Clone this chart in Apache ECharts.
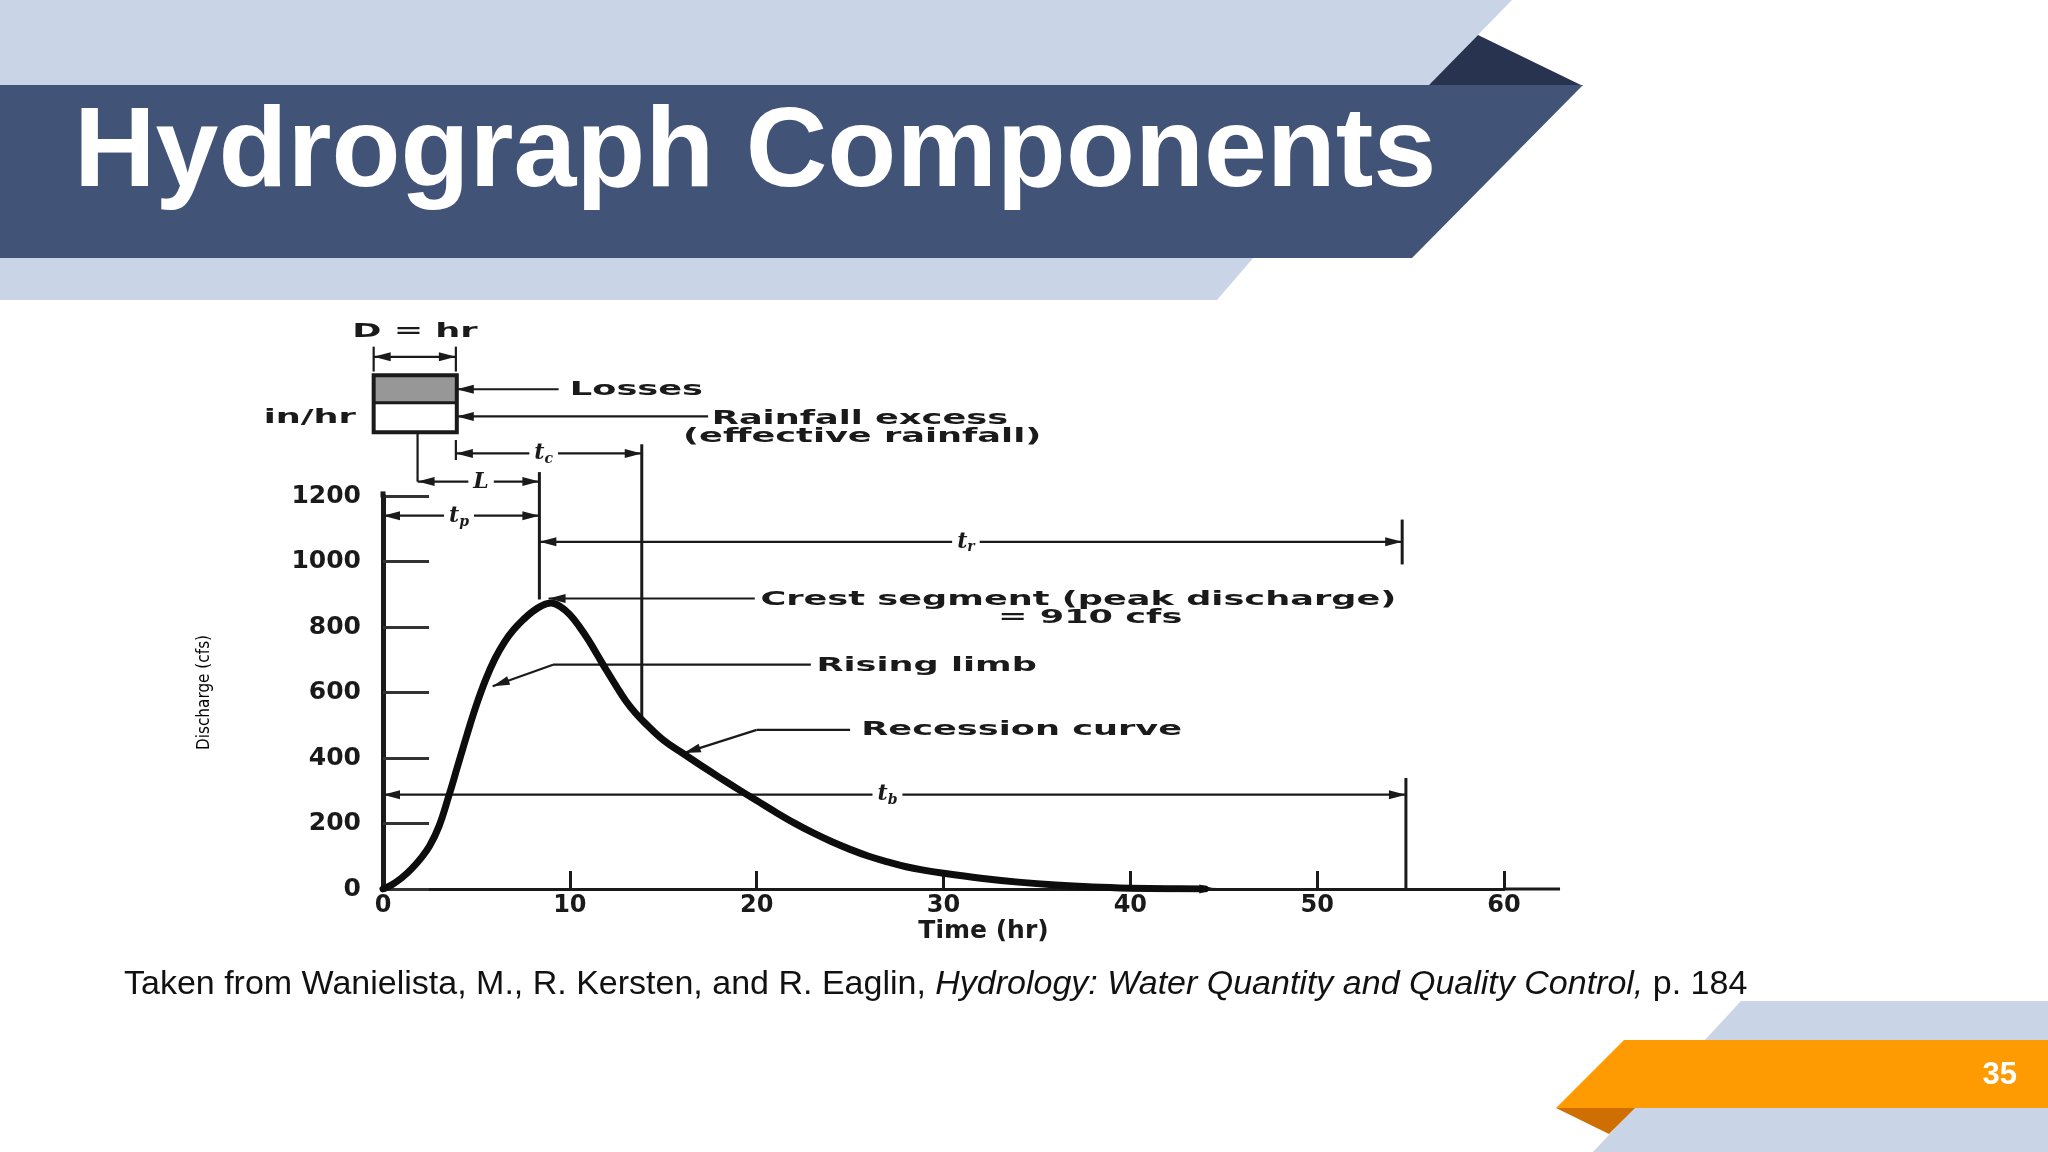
<!DOCTYPE html>
<html>
<head>
<meta charset="utf-8">
<script src="https://cdn.jsdelivr.net/npm/echarts@6/dist/echarts.min.js"></script>
<style>
html,body{margin:0;padding:0;background:#ffffff;overflow:hidden}
#chart{width:2048px;height:1152px}
</style>
</head>
<body>
<div id="chart"></div>
<script>
// ---------- data ----------
const timeHr = [0,0.5,1,1.5,2,2.5,3,3.5,4,4.5,5,5.5,6,6.5,7,7.5,8,8.5,9,9.5,10,10.5,11,11.5,12,12.5,13,13.5,14,15,16,17,18,19,20,21,22,23,24,25,26,27,28,29,30,32,34,36,38,40,42,44];
const dischargeCfs = [0,14,34,60,92,132,192,280,376,472,562,640,704,754,792,822,847,865,873,862,838,802,760,712,664,618,574,538,508,455,416,378,341,305,270,235,202,172,145,121,100,83,68,57,48,33,21,12,6,2.5,0.8,0];

const xTickValues = [0,10,20,30,40,50,60];
const yTickValues = [0,200,400,600,800,1000,1200];

// rainfall block: [start hr, end hr, base, excess top, losses top] (cfs-axis units)
const rainfallBlock = [-0.5, 3.95, 1395, 1485, 1569];

// guide segments [t1, v1, t2, v2, arrowAtStart, arrowAtEnd]
const guideSegments = [
  [-0.5,1625,3.9,1625,1,1],
  [-0.5,1656,-0.5,1580,0,0],
  [3.9,1656,3.9,1580,0,0],
  [9.4,1526,3.95,1526,0,1],
  [17.4,1443,3.95,1443,0,1],
  [1.85,1395,1.85,1244,0,0],
  [1.85,1244,8.37,1244,1,1],
  [3.9,1371,3.9,1310,0,0],
  [3.9,1330,13.85,1330,1,1],
  [0,1140,8.37,1140,1,1],
  [8.37,1060,54.55,1060,1,1],
  [19.9,887,8.86,887,0,1],
  [22.9,685,9.1,685,0,0],
  [9.1,685,5.87,619,0,1],
  [25.0,486,20.0,486,0,0],
  [20.0,486,16.1,415,0,1],
  [0,288,54.75,288,1,1],
  [43.4,0,44.6,0,0,1]
];
// heavier bars [t1, v1, t2, v2]
const markerBars = [
  [8.37,1273,8.37,884],
  [13.85,1358,13.85,515],
  [54.55,1128,54.55,991],
  [54.75,339,54.75,0],
  [60,0,63,0]
];
const axisExtension = [[0,1195,0,1214]];

// annotation text [t, v, text, anchor]
const noteTexts = [
  [1.71,1701,'D = hr','center'],
  [10.0,1524,'Losses','left'],
  [-1.45,1438,'in/hr','right'],
  [17.6,1435,'Rainfall excess','left'],
  [16.06,1380,'(effective rainfall)','left'],
  [20.2,882,'Crest segment (peak discharge)','left'],
  [37.85,827,'= 910 cfs','center'],
  [23.2,681,'Rising limb','left'],
  [25.6,486,'Recession curve','left']
];
// symbol labels [t, v, symbol, subscript]
const symbolLabels = [
  [8.6,1331,'t','c'],
  [5.25,1243,'L',''],
  [4.07,1139,'t','p'],
  [31.2,1060,'t','r'],
  [27.0,290,'t','b']
];

// ---------- drawing ----------
const INK = '#1a1a1a';
const NOTE_FONT = 'bold 19px "DejaVu Sans"';

function arrowHead(from, to) {
  const dx = to[0]-from[0], dy = to[1]-from[1];
  const len = Math.sqrt(dx*dx+dy*dy) || 1;
  const ux = dx/len, uy = dy/len, nx = -uy, ny = ux;
  const L = 17, W = 4.5;
  const bx = to[0]-ux*L, by = to[1]-uy*L;
  return {type:'polygon', shape:{points:[[to[0],to[1]],[bx+nx*W,by+ny*W],[bx-nx*W,by-ny*W]]}, style:{fill:INK}};
}

function segRenderer(width) {
  return function(params, api) {
    const p1 = api.coord([api.value(0), api.value(1)]);
    const p2 = api.coord([api.value(2), api.value(3)]);
    const children = [{type:'line', shape:{x1:p1[0],y1:p1[1],x2:p2[0],y2:p2[1]}, style:{stroke:INK, lineWidth:width}}];
    if (api.value(4)) children.push(arrowHead(p2, p1));
    if (api.value(5)) children.push(arrowHead(p1, p2));
    return {type:'group', children};
  };
}

const chart = echarts.init(document.getElementById('chart'), null, {width:2048, height:1152});

const lightBlue = '#c9d5e6';
const option = {
  animation: false,
  backgroundColor: '#ffffff',
  grid: {left:383, right:544, top:496, bottom:263, containLabel:false},
  xAxis: {
    type:'value', min:xTickValues[0], max:xTickValues[xTickValues.length-1], interval:10,
    name:'Time (hr)', nameLocation:'middle', nameGap:28,
    nameTextStyle:{fontFamily:'DejaVu Sans', fontWeight:'bold', fontSize:25, color:INK, padding:[0,0,0,80]},
    axisLine:{lineStyle:{color:INK, width:3}},
    axisTick:{inside:true, length:18, lineStyle:{color:INK, width:3}},
    axisLabel:{fontFamily:'DejaVu Sans', fontWeight:'bold', fontSize:24, color:INK, margin:5,
      formatter:function(v){return String(v);}},
    splitLine:{show:false}
  },
  yAxis: {
    type:'value', min:yTickValues[0], max:yTickValues[yTickValues.length-1], interval:200,
    name:'Discharge (cfs)', nameLocation:'middle', nameGap:170,
    nameTextStyle:{fontFamily:'"DejaVu Sans Condensed", "Liberation Sans Narrow", "Liberation Sans", Arial', fontSize:17, color:'#000'},
    axisLine:{lineStyle:{color:INK, width:5}},
    axisTick:{inside:true, length:46, lineStyle:{color:'#333', width:3}},
    axisLabel:{fontFamily:'DejaVu Sans', fontWeight:'bold', fontSize:25, color:INK, margin:22,
      formatter:function(v){return String(v);}},
    splitLine:{show:false}
  },
  graphic: [
    {type:'polygon', z:-10, shape:{points:[[0,0],[1512,0],[1428,86],[0,86]]}, style:{fill:lightBlue}},
    {type:'polygon', z:-9, shape:{points:[[1478,35],[1583,86],[1428,86]]}, style:{fill:'#28344f'}},
    {type:'polygon', z:-9, shape:{points:[[0,85],[1583,85],[1412,258],[0,258]]}, style:{fill:'#415377'}},
    {type:'polygon', z:-10, shape:{points:[[0,257],[1254,257],[1217,300],[0,300]]}, style:{fill:lightBlue}},
    {type:'text', z:5, x:74, y:155, style:{text:'Hydrograph Components', font:'bold 113px "Liberation Sans", Arial', fill:'#ffffff', align:'left', verticalAlign:'middle'}},
    {type:'polygon', z:-10, shape:{points:[[1741,1001],[2048,1001],[2048,1041],[1704,1041]]}, style:{fill:lightBlue}},
    {type:'polygon', z:-9, shape:{points:[[1624,1040],[2048,1040],[2048,1108],[1556,1108]]}, style:{fill:'#fe9a02'}},
    {type:'polygon', z:-9, shape:{points:[[1556,1108],[1635,1108],[1609,1134]]}, style:{fill:'#cf6f02'}},
    {type:'polygon', z:-10, shape:{points:[[1635,1107],[2048,1107],[2048,1152],[1593,1152]]}, style:{fill:lightBlue}},
    {type:'text', z:5, x:2017, y:1075, style:{text:'35', font:'bold 31px "Liberation Sans", Arial', fill:'#ffffff', align:'right', verticalAlign:'middle'}},
    {type:'text', z:5, x:124, y:985, style:{
      text:'{r|Taken from Wanielista, M., R. Kersten, and R. Eaglin, }{i|Hydrology: Water Quantity and Quality Control,}{r| p. 184}',
      rich:{
        r:{font:'34px "Liberation Sans", Arial', fill:'#111'},
        i:{font:'italic 34px "Liberation Sans", Arial', fill:'#111'}
      },
      align:'left', verticalAlign:'middle'}}
  ],
  series: [
    {
      type:'custom', name:'rainfall', coordinateSystem:'cartesian2d', clip:false, z:3,
      data:[rainfallBlock], encode:{x:[0,1], y:[2,3,4]},
      renderItem:function(params, api){
        const a = api.coord([api.value(0), api.value(4)]);
        const m = api.coord([api.value(1), api.value(3)]);
        const b = api.coord([api.value(1), api.value(2)]);
        return {type:'group', children:[
          {type:'rect', shape:{x:a[0], y:a[1], width:m[0]-a[0], height:m[1]-a[1]}, style:{fill:'#979797'}},
          {type:'line', shape:{x1:a[0], y1:m[1], x2:m[0], y2:m[1]}, style:{stroke:INK, lineWidth:3}},
          {type:'rect', shape:{x:a[0], y:a[1], width:b[0]-a[0], height:b[1]-a[1]}, style:{fill:null, stroke:INK, lineWidth:4}}
        ]};
      }
    },
    {
      type:'custom', name:'guides', coordinateSystem:'cartesian2d', clip:false, z:3,
      data:guideSegments, encode:{x:[0,2], y:[1,3]},
      renderItem:segRenderer(2.2)
    },
    {
      type:'custom', name:'bars', coordinateSystem:'cartesian2d', clip:false, z:3,
      data:markerBars.map(b => b.concat([0,0])), encode:{x:[0,2], y:[1,3]},
      renderItem:segRenderer(3)
    },
    {
      type:'custom', name:'axisExt', coordinateSystem:'cartesian2d', clip:false, z:3,
      data:axisExtension.map(b => b.concat([0,0])), encode:{x:[0,2], y:[1,3]},
      renderItem:segRenderer(5)
    },
    {
      type:'line', name:'Discharge', data:timeHr.map((t,i)=>[t, dischargeCfs[i]]),
      smooth:0.4, showSymbol:false, symbol:'none', z:4,
      lineStyle:{color:'#0d0d0d', width:7, cap:'round', join:'round'}
    },
    {
      type:'custom', name:'notes', coordinateSystem:'cartesian2d', clip:false, z:6,
      data:noteTexts.map(n => [n[0], n[1]]),
      renderItem:function(params, api){
        const n = noteTexts[params.dataIndex];
        const p = api.coord([api.value(0), api.value(1)]);
        return {type:'text', x:p[0], y:p[1], scaleX:1.85, scaleY:1,
          style:{text:n[2], font:NOTE_FONT, fill:INK, align:n[3], verticalAlign:'middle'}};
      }
    },
    {
      type:'custom', name:'symbols', coordinateSystem:'cartesian2d', clip:false, z:7,
      data:symbolLabels.map(n => [n[0], n[1]]),
      renderItem:function(params, api){
        const n = symbolLabels[params.dataIndex];
        const p = api.coord([api.value(0), api.value(1)]);
        const txt = n[3] ? '{m|' + n[2] + '}{s|' + n[3] + '}' : '{m|' + n[2] + '}';
        return {type:'text', x:p[0], y:p[1],
          style:{text:txt, align:'center', verticalAlign:'middle', backgroundColor:'#ffffff', padding:[1,5,1,5],
            rich:{
              m:{font:'italic bold 22px "DejaVu Serif"', fill:INK, lineHeight:26, verticalAlign:'middle'},
              s:{font:'italic bold 14px "DejaVu Serif"', fill:INK, lineHeight:26, verticalAlign:'bottom'}
            }}};
      }
    }
  ]
};
chart.setOption(option);
</script>
</body>
</html>
